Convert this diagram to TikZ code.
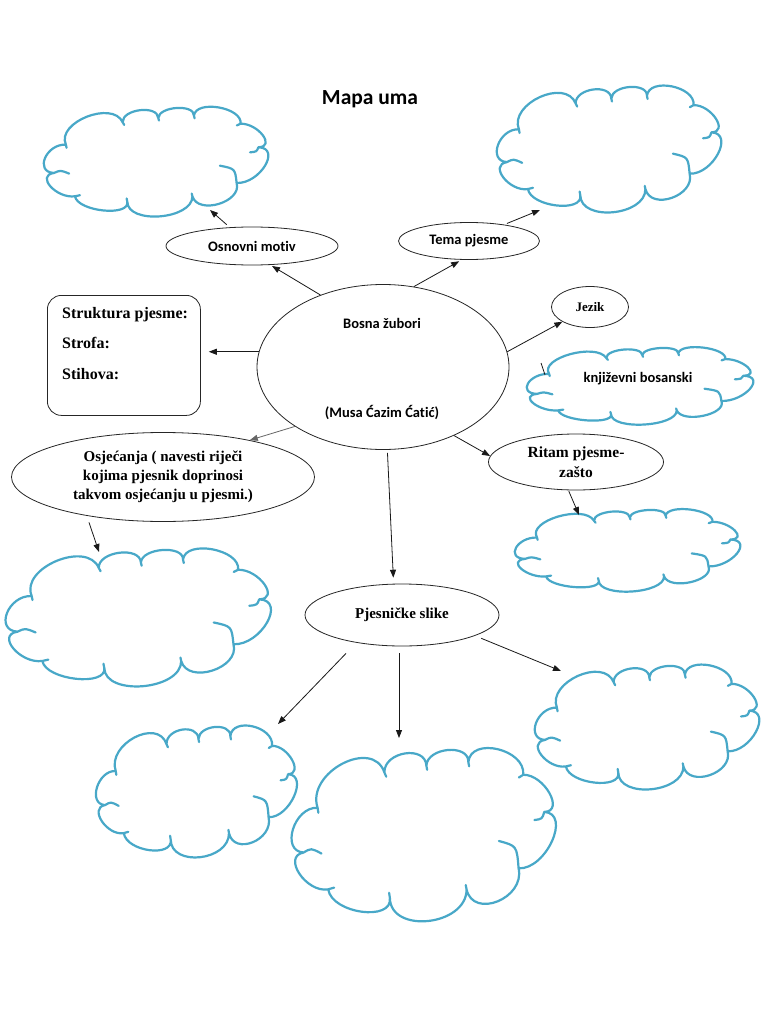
\documentclass[tikz,border=0pt]{standalone}
\usepackage{fontspec}
\setmainfont{Liberation Serif}
\newfontfamily\calfont[Ligatures={NoCommon,NoContextual}]{Carlito}
\usetikzlibrary{shapes.geometric,arrows.meta,calc}
\definecolor{cloudblue}{RGB}{72,168,200}
\newcommand\bmp[3]{.. controls ($0.3333*(#1)+1.3333*(#2)-0.6667*(#3)$) and ($1.3333*(#2)+0.3333*(#3)-0.6667*(#1)$) .. (#3)}
\newcommand\cloudpath{(0.095,0.336)
 \bmp{0.095,0.336}{0.19,0.08}{0.353,0.131}
 \bmp{0.353,0.131}{0.432,0.02}{0.515,0.092}
 \bmp{0.515,0.092}{0.598,0.0}{0.677,0.07}
 \bmp{0.677,0.07}{0.79,-0.005}{0.889,0.144}
 \bmp{0.889,0.144}{0.99,0.25}{0.97,0.36}
 \bmp{0.97,0.36}{1.0,0.53}{0.871,0.688}
 \bmp{0.871,0.688}{0.79,0.88}{0.67,0.81}
 \bmp{0.67,0.81}{0.523,0.994}{0.374,0.859}
 \bmp{0.374,0.859}{0.265,0.94}{0.136,0.81}
 \bmp{0.136,0.81}{0.025,0.72}{0.041,0.596}
 \bmp{0.041,0.596}{0.0,0.46}{0.095,0.336}
 (0.97,0.36) .. controls (0.962,0.401) .. (0.932,0.407)
 (0.871,0.688) .. controls (0.864,0.557) .. (0.795,0.529)
 (0.041,0.596) .. controls (0.07,0.57) .. (0.11,0.602)
 (0.136,0.81) -- (0.159,0.80)
 (0.374,0.859) -- (0.371,0.83)
 (0.67,0.81) -- (0.667,0.785)
 (0.353,0.131) -- (0.36,0.155)
 (0.515,0.092) -- (0.518,0.115)
 (0.677,0.07) -- (0.68,0.095)
 (0.889,0.144) -- (0.872,0.16)
 (0.095,0.336) -- (0.098,0.365)}
\newcommand\mycloud[5]{%
 \node[cloudbox, minimum width=#4pt, minimum height=#5pt] (#1) at (#2,#3) {};
 \begin{scope}[shift={(#1.north west)}, xscale=#4, yscale=#5]
  \draw[cloudline] \cloudpath;
 \end{scope}}
\tikzset{
 ell/.style={draw=black!85, line width=0.8pt, ellipse, inner sep=0pt},
 sanstxt/.style={font=\calfont\bfseries\fontsize{14.5}{17}\selectfont},
 seriftxt/.style={font=\bfseries\fontsize{15}{19}\selectfont, align=center},
 arr/.style={-{Triangle[length=8pt,width=6pt]}, line width=0.8pt, draw=black!90},
 cloudline/.style={draw=cloudblue, line width=2.2pt, line cap=round, line join=round},
 cloudbox/.style={inner sep=0pt, anchor=north west}
}
\begin{document}
\begin{tikzpicture}[x=1pt,y=-1pt]
\fill[white] (0,0) rectangle (768,1024);
\useasboundingbox (0,0) rectangle (768,1024);

\node[font=\calfont\bfseries\fontsize{21.5}{25}\selectfont] (title) at (370,99) {Mapa uma};

% clouds
\mycloud{c1}{45}{108}{220}{109}
\mycloud{c2}{498}{87}{220}{126}
\mycloud{c3}{7}{550}{260}{137}
\mycloud{c4}{528}{348}{222}{77}
\mycloud{c5}{516}{510}{221}{82}
\mycloud{c6}{536}{666}{220}{124}
\mycloud{c7}{293}{750}{259}{172}
\mycloud{c8}{97}{727}{197}{131}
\node[sanstxt] (c4t) at (638,379) {književni bosanski};

% nodes
\node[ell, minimum width=252pt, minimum height=165pt] (cen) at (383,367) {};
\node[sanstxt] (cent1) at (382,323) {Bosna žubori};
\node[sanstxt] (cent2) at (382,413) {(Musa Ćazim Ćatić)};
\node[ell, sanstxt, minimum width=172pt, minimum height=38pt] (osn) at (252,246) {Osnovni motiv};
\node[ell, sanstxt, minimum width=141pt, minimum height=37pt] (tema) at (469,241) {Tema pjesme};
\node[ell, font=\bfseries\fontsize{13}{15}\selectfont, minimum width=77pt, minimum height=41pt] (jez) at (590,307) {Jezik};
\node[ell, seriftxt, font=\bfseries\fontsize{15.5}{20}\selectfont, minimum width=175pt, minimum height=56pt] (rit) at (576,462) {Ritam pjesme-\\zašto};
\node[ell, seriftxt, minimum width=303pt, minimum height=89pt] (osj) at (163,477) {Osjećanja ( navesti riječi\\kojima pjesnik doprinosi\\takvom osjećanju u pjesmi.)};
\node[ell, seriftxt, minimum width=194pt, minimum height=62pt] (pjs) at (402,615) {Pjesničke slike};
\node[draw=black!85, line width=0.8pt, rounded corners=14pt, minimum width=153pt, minimum height=120pt, anchor=north west] (struk) at (47,295) {};
\node[anchor=north west, align=left, inner sep=0pt, font=\bfseries\fontsize{16}{30.5}\selectfont] (struktxt) at (62,307) {Struktura pjesme:\\Strofa:\\Stihova:};

% free ends
\coordinate (c1tip) at (210,210);
\coordinate (c2tip) at (540,210);
\coordinate (c3tip) at (99,552);
\coordinate (c5tip) at (579,515);
\coordinate (c6tip) at (561,671);
\coordinate (c7tip) at (399,738);
\coordinate (c8tip) at (278,724);
\coordinate (kl1) at (541,363);
\coordinate (kl2) at (545,375);

% connectors
\draw[arr, shorten >=2pt] (cen.131) -- (osn.-46);
\draw[arr, shorten >=3pt] (cen.69) -- (tema.-111);
\draw[arr, shorten <=4pt] (osn.140) -- (c1tip);
\draw[arr, shorten <=3pt] (tema.25) -- (c2tip);
\draw[arr, shorten >=8pt] (cen.173) -- (cen.173 -| struk.east);
\draw[arr, draw=black!60] (cen.214) -- (osj.23);
\draw[arr] (cen.7) -- (jez.208);
\draw[line width=0.8pt, black!90] (kl1) -- (kl2);
\draw[arr] (cen.-44) -- (rit.176);
\draw[arr, shorten <=1pt] (rit.-105) -- (c5tip);
\draw[arr] ($(osj.south)+(-74,0.5)$) -- (c3tip);
\draw[arr, shorten <=3pt, shorten >=6pt] (cen.-87) -- (pjs.105);
\draw[arr] ($(pjs.south)+(-56,7)$) -- (c8tip);
\draw[arr] ($(pjs.south)+(-3,7)$) -- (c7tip);
\draw[arr] ($(pjs.-13)+(0,5)$) -- (c6tip);
\end{tikzpicture}
\end{document}
